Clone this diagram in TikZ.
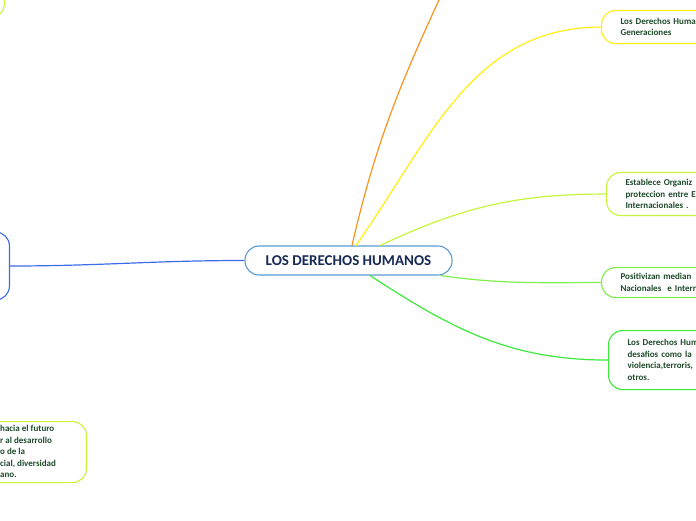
\documentclass[tikz,border=0pt]{standalone}
\usepackage{fontspec}
\setmainfont{Carlito}
\definecolor{azulcentro}{HTML}{5B9BD5}
\definecolor{azulrama}{HTML}{3D6BEA}
\definecolor{naranja}{HTML}{F7941D}
\definecolor{amarillo}{HTML}{FFEE11}
\definecolor{lima}{HTML}{C6F53A}
\definecolor{verdeclaro}{HTML}{7DEE4A}
\definecolor{verde}{HTML}{3CEA3C}
\definecolor{textoverde}{HTML}{1F4A2A}
\definecolor{textoazul}{HTML}{172A55}
\begin{document}
\begin{tikzpicture}[x=1pt,y=1pt,font=\bfseries\fontsize{9}{11.5}\selectfont,
  caja/.style={draw,line width=1.1pt,rounded corners=14pt,fill=white},
  hijo/.style={caja,text=textoverde,align=left,text width=200pt,inner xsep=19pt,anchor=north west},
  rama/.style={line width=1.2pt}]

\useasboundingbox (0,0) rectangle (696,520);
\clip (0,0) rectangle (696,520);

%nodo centrale
\node[caja, draw=azulcentro, text=textoazul, minimum width=207, minimum height=29,
  font=\bfseries\fontsize{15}{17}\selectfont] (central) at (348.5,259.5) {LOS DERECHOS HUMANOS};

%nodi a sinistra
\node[caja, draw=azulrama, anchor=east, minimum width=150, minimum height=68] (oeste) at (10,254) {};
\node[caja, draw=lima, anchor=south east, minimum width=150, minimum height=60, rounded corners=12pt] (arribaizq) at (5,503) {};
\node[caja, draw=lima, anchor=north east, minimum width=200, minimum height=61] (futuro) at (87,99) {};
\node[text=textoverde, anchor=west, align=left, inner sep=0pt] (futurotxt) at (0,68.5)
  {hacia el futuro\\r al desarrollo\\o de la\\cial, diversidad\\ano.};

%nodi a destra
\node[hijo, draw=amarillo, minimum height=33] (generaciones) at (601,510)
  {Los Derechos Huma\\Generaciones};
\node[hijo, draw=lima, minimum height=43] (organiz) at (606,348)
  {Establece Organiz\\proteccion entre E\\Internacionales .};
\node[hijo, draw=verdeclaro, minimum height=30] (positivizan) at (601,253)
  {Positivizan median\\Nacionales\ \ e Intern};
\node[hijo, draw=verde, minimum height=59] (desafios) at (608,190)
  {Los Derechos Hum\\desafios como la\\violencia,terroris,\\otros.};

\coordinate (arriba) at (452,548);

%rami
\begin{scope}[on background layer/.try]
\draw[rama, azulrama] (central.west) to[out=180,in=0] (oeste.east);
\draw[rama, naranja] ([xshift=3.5pt]central.north) to[out=77,in=-115] (arriba);
\draw[rama, amarillo] ([xshift=7.5pt]central.north) to[out=55,in=180] (generaciones.west);
\draw[rama, lima] ([xshift=31.5pt]central.north) to[out=25,in=180] (organiz.west);
\draw[rama, verdeclaro] ([xshift=92pt]central.south) to[out=-8,in=180] (positivizan.west);
\draw[rama, verde] ([xshift=21.5pt]central.south) to[out=-33,in=180] (desafios.west);
\end{scope}

\end{tikzpicture}
\end{document}
